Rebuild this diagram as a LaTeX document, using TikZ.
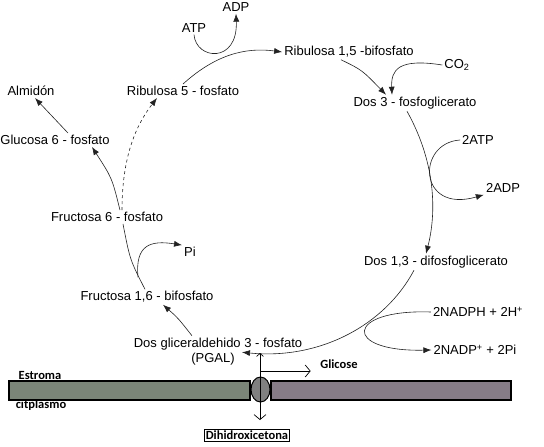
\documentclass[tikz,border=0pt]{standalone}
\usepackage{fontspec}
\setmainfont{Liberation Sans}
\newfontfamily\labelfont{Carlito}
\usepackage{tikz}
\usetikzlibrary{arrows.meta,positioning,shapes.geometric}
\definecolor{stromagreen}{HTML}{7B8578}
\definecolor{cytopurple}{HTML}{867C87}
\definecolor{poregray}{HTML}{808080}
\definecolor{ink}{HTML}{222222}

\begin{document}
\begin{tikzpicture}[x=1pt,y=-1pt,
  txt/.style={inner sep=2pt,font=\fontsize{13}{15}\selectfont,text=black},
  lbl/.style={inner sep=1.5pt,font=\labelfont\bfseries\fontsize{12.5}{14}\selectfont,text=black},
  flow/.style={-{Latex[length=8pt,width=6pt]},ink,line width=0.6pt},
  plain/.style={ink,line width=0.6pt},
  membrane/.style={draw=black,line width=1.1pt}]
\useasboundingbox (0,0) rectangle (544,447);
% Calvin cycle
\node[txt] (adp) at (236,7) {ADP};
\node[txt] (atp) at (194,28) {ATP};
\node[txt] (rubp) at (349,52) {Ribulosa 1,5 -bifosfato};
\node[txt] (cotwo) at (457,65) {CO\textsubscript{2}};
\node[txt] (pga) at (415,103) {Dos 3 - fosfoglicerato};
\node[txt] (atptwo) at (478,140) {2ATP};
\node[txt] (adptwo) at (503,188) {2ADP};
\node[txt] (bpga) at (436,262) {Dos 1,3 - difosfoglicerato};
\node[txt] (nadph) at (478,312) {2NADPH + 2H\textsuperscript{+}};
\node[txt] (nadp) at (475,350) {2NADP\textsuperscript{+} + 2Pi};
\node[txt] (pgal) at (218,344) {Dos gliceraldehido 3 - fosfato};
\node[txt] (pgalb) at (213,359) {(PGAL)};
\node[txt] (fbp) at (147,297) {Fructosa 1,6 - bifosfato};
\node[txt] (pi) at (190,252) {Pi};
\node[txt] (fsix) at (107,217) {Fructosa 6 - fosfato};
\node[txt] (gsix) at (55,140) {Glucosa 6 - fosfato};
\node[txt] (almidon) at (31,91) {Almidón};
\node[txt] (rufive) at (183,91) {Ribulosa 5 - fosfato};

\draw[flow] (rufive.north) .. controls (215,55) and (245,47) .. (rubp.west);
\draw[flow] (atp.south) .. controls (196,60) and (238,64) .. (adp.south);
\draw[flow] ([xshift=-8pt]rubp.south) .. controls (362,70) .. ([xshift=-29pt]pga.north);
\draw[flow] (cotwo.west) .. controls (398,58) and (391,70) .. ([xshift=-23pt]pga.north);
\draw[flow] ([xshift=-8pt]pga.south) .. controls (437,165) and (436,215) .. ([xshift=-10pt]bpga.north);
\draw[flow] (atptwo.west) .. controls (416,143) and (418,214) .. (adptwo.south west);
\draw[flow] ([xshift=-22pt]bpga.south) .. controls (385,325) and (320,360) .. ([xshift=24pt]pgal.south);
\draw[flow] (nadph.west) .. controls (345,309) and (342,352) .. (nadp.west);
\draw[flow] ([xshift=-26pt]pgal.north) .. controls (178,318) .. ([xshift=16pt]fbp.south);
\draw[plain] ([xshift=-2pt]fbp.north) .. controls (130,260) .. ([xshift=16pt]fsix.south);
\draw[flow] ([xshift=-9pt,yshift=12pt]fbp.north) .. controls (135,245) and (150,240) .. (pi.north west);
\draw[flow] ([xshift=13pt]fsix.north) .. controls (112,178) .. ([xshift=37pt]gsix.south);
\draw[flow,dashed] ([xshift=15pt]fsix.north) .. controls (122,150) and (140,120) .. ([xshift=-26pt]rufive.south);
\draw[flow] ([xshift=13pt]gsix.north) -- ([xshift=4pt]almidon.south);

% chloroplast envelope
\draw[membrane,fill=stromagreen] (9,381) rectangle (250,400);
\draw[membrane,fill=cytopurple] (271,381) rectangle (511,400);
\node[ellipse,draw=black,line width=1pt,fill=poregray,minimum width=19pt,minimum height=25pt,inner sep=0pt] (pore) at (260.5,389.5) {};
\node[lbl] (estroma) at (40,375) {Estroma};
\node[lbl] (citplasmo) at (41,405) {citplasmo};
\node[lbl] (glicose) at (339,364) {Glicose};
\node[lbl,draw=black,line width=0.8pt] (dhap) at (247,435) {Dihidroxicetona};
\coordinate (porttop) at (260,353);
\coordinate (portbot) at (260,420);
\coordinate (branch) at (260,371);
\draw[{Straight Barb[length=3pt,width=7pt]}-{Straight Barb[length=5pt,width=12pt]},black,line width=0.7pt] (porttop) -- (portbot);
\draw[-{Straight Barb[length=5pt,width=12pt]},black,line width=0.7pt] (branch) -- ([xshift=-8pt,yshift=-7pt]glicose.west);
\end{tikzpicture}
\end{document}
